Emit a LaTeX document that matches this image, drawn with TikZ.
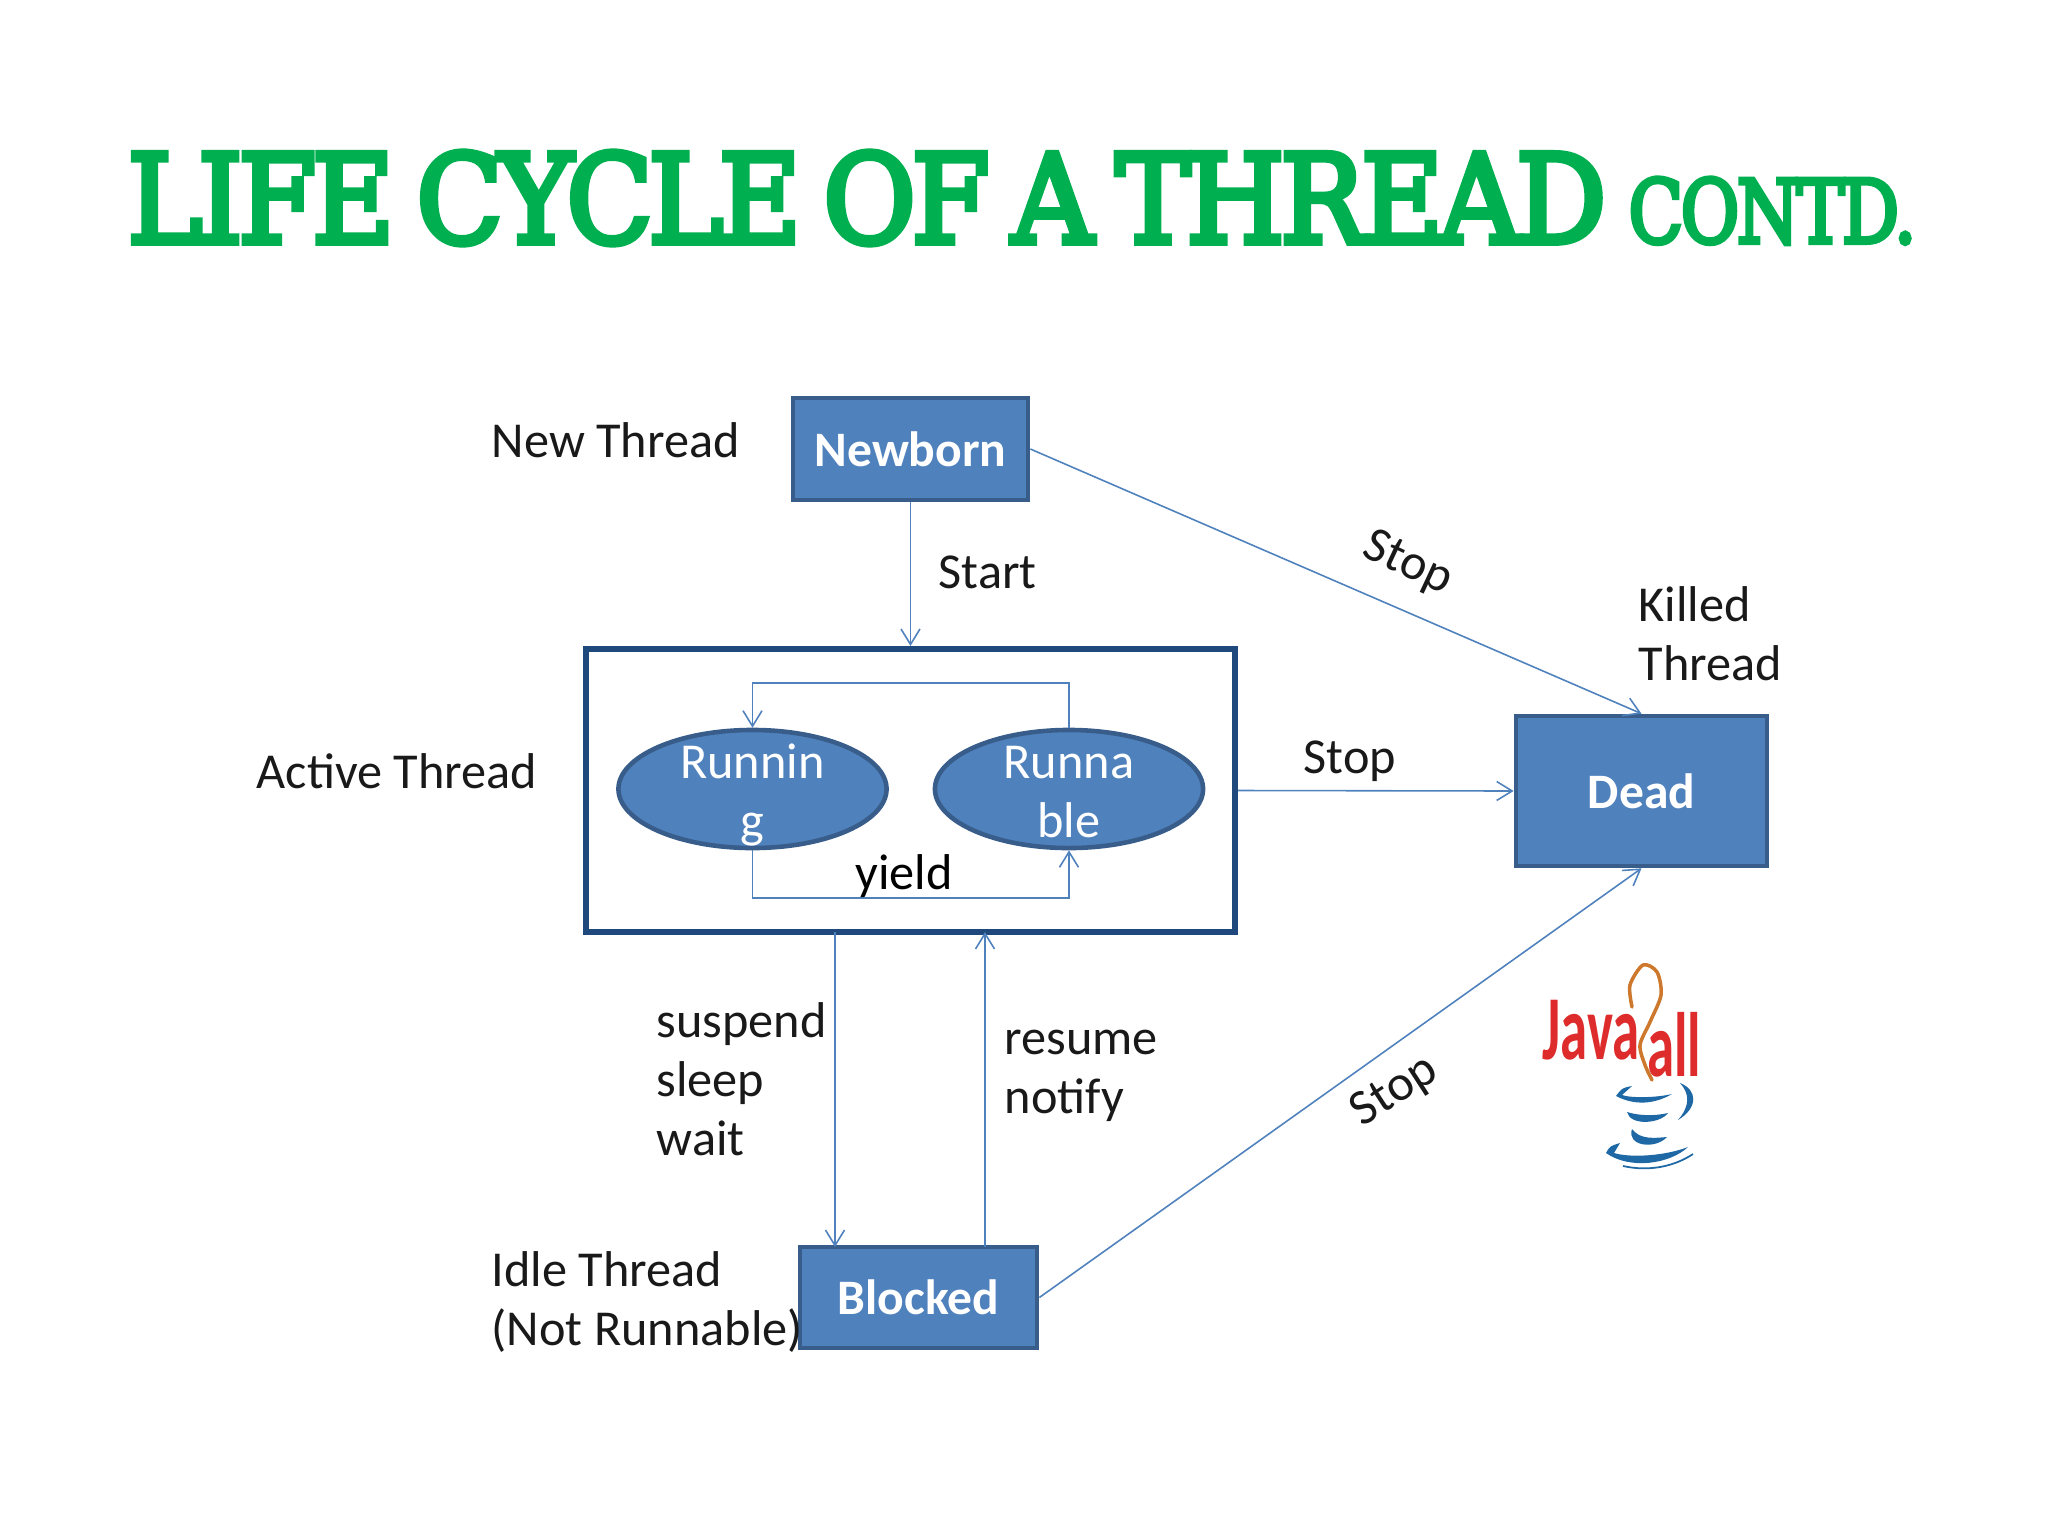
\documentclass[tikz,border=0pt]{standalone}
\usepackage{fontspec}
\setmainfont{Carlito}
\newfontfamily\titlefont[FakeBold=5,LetterSpace=-4,WordSpace=0.7]{DejaVu Serif}
\usetikzlibrary{arrows.meta,shapes.geometric}
\definecolor{nodeblue}{RGB}{79,129,189}
\definecolor{edgeblue}{RGB}{56,93,138}
\definecolor{framenavy}{RGB}{31,73,125}
\definecolor{titlegreen}{RGB}{0,176,80}
\definecolor{javared}{RGB}{222,44,44}
\definecolor{javaorange}{RGB}{205,120,45}
\definecolor{javablue}{RGB}{30,105,165}
\tikzset{
  statebox/.style={draw=edgeblue,line width=1.3pt,fill=nodeblue,text=white,font=\fontsize{14.1}{17}\selectfont\bfseries,inner sep=0pt},
  stateoval/.style={ellipse,draw=edgeblue,line width=1.3pt,fill=nodeblue,text=white,align=center,inner xsep=0pt,inner ysep=-10pt,minimum width=2.68cm,minimum height=1.18cm},
  lbl/.style={anchor=west,align=left,inner sep=0pt,text=black!90},
  flow/.style={draw=nodeblue,line width=0.45pt,-{Straight Barb[length=4.4pt,width=5.4pt]}},
  cup/.style={fill=javablue,draw=none},
}
\begin{document}
\begin{tikzpicture}[x=0.01cm,y=-0.01cm,font=\fontsize{14.3}{16.8}\selectfont]
  \useasboundingbox (0,0) rectangle (2048,1536);
  \node (title) at (1022,198) [inner sep=0pt,text=titlegreen,xscale=0.918] {\titlefont\fontsize{35}{40}\selectfont LIFE CYCLE OF A THREAD {\fontsize{25}{30}\selectfont\scalebox{0.89}[1]{CONTD.}}};

  % states
  \node (newborn) at (910.5,449) [statebox,minimum width=2.35cm,minimum height=1.02cm] {Newborn};
  \node (dead) at (1641.5,791) [statebox,minimum width=2.51cm,minimum height=1.50cm] {Dead};
  \node (blocked) at (918.5,1297.5) [statebox,minimum width=2.37cm,minimum height=1.01cm] {Blocked};
  \node (active) at (910.5,790.5) [draw=framenavy,line width=1.7pt,minimum width=6.49cm,minimum height=2.83cm,inner sep=0pt] {};
  \node (running) at (752.5,789) [stateoval] {\rule{0pt}{16pt}Runnin\\g\strut};
  \node (runnable) at (1069,789) [stateoval] {\rule{0pt}{16pt}Runna\\ble\strut};

  % connectors
  \coordinate (loopT) at (910,683);
  \coordinate (loopB) at (910,898);
  \coordinate (suspendT) at (835,932);
  \coordinate (suspendB) at (835,1247);
  \coordinate (resumeT) at (985,932);
  \coordinate (resumeB) at (985,1247);
  \draw[flow] (newborn.south) -- (active.north);
  \draw[flow] (newborn.east) -- (dead.north);
  \draw[flow] (active.east) -- (dead.west);
  \draw[flow] (blocked.east) -- (dead.south);
  \draw[flow] (suspendT) -- (suspendB);
  \draw[flow] (resumeB) -- (resumeT);
  \draw[flow] (runnable.north) |- (loopT) -| (running.north);
  \draw[flow] (running.south) |- (loopB) -| (runnable.south);

  % labels
  \node (newlbl) at (491,440) [lbl] {New Thread};
  \node (startlbl) at (938,572) [lbl] {Start};
  \node (killedlbl) at (1638,634) [lbl] {Killed\\Thread};
  \node (stopmid) at (1350,761) [text=black!90,inner sep=0pt] {Stop};
  \node (stoptop) at (1408,564) [text=black!90,inner sep=0pt,rotate=-25] {Stop};
  \node (stopbot) at (1395,1092) [text=black!90,inner sep=0pt,rotate=33] {Stop};
  \node (activelbl) at (256,771) [lbl] {Active Thread};
  \node (suspendlbl) at (656,1079) [lbl] {suspend\\sleep\\wait};
  \node (resumelbl) at (1004,1076) [lbl] {resume\\notify};
  \node (idlelbl) at (491,1302) [lbl] {Idle Thread\\(Not Runnable)};
  \node (yieldlbl) at (904,876) [text=black,inner sep=0pt] {yield};

  % logo
  \node (javaword) at (1591,1030) [text=javared,inner sep=0pt,xscale=0.6,font=\fontsize{26}{30}\selectfont\bfseries] {Java};
  \node (allword) at (1674,1045) [text=javared,inner sep=0pt,xscale=0.6,font=\fontsize{26}{30}\selectfont\bfseries] {all};
  \draw[javaorange,line width=1pt,line cap=round] plot[smooth] coordinates {(1632,1007) (1630,985) (1643,965) (1657,972) (1661,995) (1650,1022) (1640,1045) (1645,1065) (1652,1080)};
  \fill[cup] (1632,1086) .. controls (1622,1088) .. (1616,1096) .. controls (1635,1106) and (1655,1104) .. (1672,1094) .. controls (1655,1098) and (1630,1098) .. (1622,1095) -- cycle;
  \fill[cup] (1627,1112) .. controls (1630,1126) and (1660,1124) .. (1668,1113) .. controls (1655,1116) and (1640,1116) .. cycle;
  \fill[cup] (1632,1129) .. controls (1626,1146) and (1655,1150) .. (1667,1137) .. controls (1655,1138) and (1640,1140) .. cycle;
  \fill[cup] (1620,1143) .. controls (1610,1146) .. (1606,1153) .. controls (1630,1170) and (1670,1164) .. (1688,1147) .. controls (1665,1156) and (1630,1158) .. (1614,1153) -- cycle;
  \draw[javablue,line width=0.5pt] (1623,1166) .. controls (1650,1172) and (1675,1166) .. (1693,1154);
  \fill[cup] (1680,1083) .. controls (1698,1090) and (1698,1108) .. (1678,1120) .. controls (1690,1106) and (1690,1094) .. cycle;
\end{tikzpicture}
\end{document}
